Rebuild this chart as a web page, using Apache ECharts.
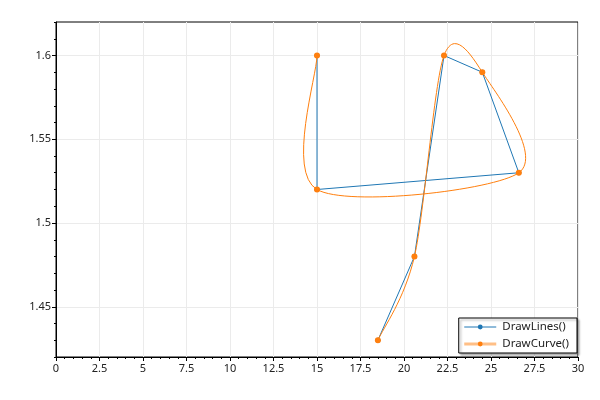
<!DOCTYPE html>
<html>
<head>
<meta charset="utf-8">
<script src="https://cdn.jsdelivr.net/npm/echarts@6/dist/echarts.min.js"></script>
<style>html,body{margin:0;padding:0;background:#fff}#c{width:600px;height:400px}</style>
</head>
<body>
<div id="c"></div>
<script>
const xs = [15, 15, 26.6, 24.5, 22.3, 20.6, 18.5];
const ys = [1.6, 1.52, 1.53, 1.59, 1.6, 1.48, 1.43];
const yMajorTicks = [1.45, 1.5, 1.55, 1.6];
const seriesNames = ['DrawLines()', 'DrawCurve()'];
const points = xs.map((x, i) => [x, ys[i]]);

const FONT = '"Noto Sans", sans-serif';
const TENSION = 0.5 * 0.3;

function renderCurve(params, api) {
  const p = points.map(d => api.coord(d));
  const n = p.length;
  const c = [];
  c.push([p[0][0] + (p[1][0] - p[0][0]) * TENSION, p[0][1] + (p[1][1] - p[0][1]) * TENSION]);
  for (let i = 1; i < n - 1; i++) {
    const dx = p[i + 1][0] - p[i - 1][0], dy = p[i + 1][1] - p[i - 1][1];
    c.push([p[i][0] - dx * TENSION, p[i][1] - dy * TENSION]);
    c.push([p[i][0] + dx * TENSION, p[i][1] + dy * TENSION]);
  }
  c.push([p[n - 1][0] + (p[n - 2][0] - p[n - 1][0]) * TENSION, p[n - 1][1] + (p[n - 2][1] - p[n - 1][1]) * TENSION]);
  const children = [];
  for (let i = 0; i < n - 1; i++) {
    const a = c[2 * i], b = c[2 * i + 1];
    children.push({
      type: 'bezierCurve',
      shape: { x1: p[i][0], y1: p[i][1], cpx1: a[0], cpy1: a[1], cpx2: b[0], cpy2: b[1], x2: p[i + 1][0], y2: p[i + 1][1] },
      style: { stroke: '#ff7f0e', fill: null, lineWidth: 1 }
    });
  }
  return { type: 'group', children: children };
}

const chart = echarts.init(document.getElementById('c'), null, { renderer: 'canvas' });
chart.setOption({
  animation: false,
  textStyle: { fontFamily: FONT },
  grid: { left: 56, right: 22, top: 22, bottom: 43, show: true, borderColor: '#000', borderWidth: 1, backgroundColor: 'transparent' },
  legend: {
    orient: 'vertical',
    right: 23, top: 318,
    padding: [2, 8, 2, 4],
    itemGap: 3,
    itemWidth: 32, itemHeight: 6,
    backgroundColor: '#fff',
    borderColor: '#000', borderWidth: 1, borderRadius: 0,
    shadowColor: 'rgba(0,0,0,0.3)', shadowBlur: 2, shadowOffsetX: 2, shadowOffsetY: 2,
    textStyle: { fontFamily: FONT, fontSize: 11.5, color: '#222', lineHeight: 14, padding: [0, 0, 0, 1] },
    data: [
      { name: seriesNames[0], itemStyle: { color: '#1f77b4' }, lineStyle: { color: '#1f77b4', width: 1 } },
      { name: seriesNames[1], itemStyle: { color: '#ff7f0e' }, lineStyle: { color: 'rgba(255,127,14,0.5)', width: 3 } }
    ]
  },
  xAxis: {
    type: 'value', min: 0, max: 30, interval: 2.5,
    axisLine: { show: true, onZero: false, lineStyle: { color: '#000', width: 1 } },
    axisTick: { show: true, length: 4, lineStyle: { color: '#000' } },
    minorTick: { show: true, splitNumber: 5, length: 2, lineStyle: { color: '#000' } },
    splitLine: { show: true, lineStyle: { color: '#ebebeb', width: 1 } },
    minorSplitLine: { show: false },
    axisLabel: { fontFamily: FONT, fontSize: 11, color: '#222', margin: 6 }
  },
  yAxis: [
    {
      type: 'value', min: 1.42, max: 1.62,
      axisLine: { show: true, onZero: false, lineStyle: { color: '#000', width: 1 } },
      axisTick: { show: true, length: 4, customValues: yMajorTicks, lineStyle: { color: '#000' } },
      axisLabel: { customValues: yMajorTicks, fontFamily: FONT, fontSize: 11, color: '#222', margin: 5, formatter: v => String(+v.toFixed(2)) },
      splitLine: { show: true, lineStyle: { color: '#ebebeb', width: 1 } }
    },
    {
      type: 'value', min: 1.42, max: 1.62, interval: 0.01, position: 'left', offset: 0,
      axisLine: { show: false },
      axisTick: { show: true, length: 2, lineStyle: { color: '#000' } },
      axisLabel: { show: false },
      splitLine: { show: false }
    }
  ],
  series: [
    {
      name: seriesNames[0], type: 'line', data: points, z: 2,
      symbol: 'circle', symbolSize: 5, showSymbol: true,
      itemStyle: { color: '#1f77b4' }, lineStyle: { color: '#1f77b4', width: 1 },
      emphasis: { disabled: true }
    },
    {
      name: seriesNames[1], type: 'line', data: points, z: 4,
      symbol: 'circle', symbolSize: 6, showSymbol: true,
      itemStyle: { color: '#ff7f0e' }, lineStyle: { width: 0, color: '#ff7f0e' },
      emphasis: { disabled: true }
    },
    {
      name: seriesNames[1], type: 'custom', data: [[0, 0]], z: 3,
      renderItem: renderCurve, itemStyle: { color: '#ff7f0e' }, silent: true
    }
  ]
});
</script>
</body>
</html>
